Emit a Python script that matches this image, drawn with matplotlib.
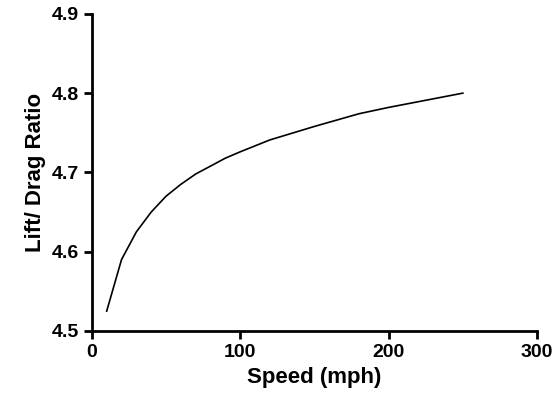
import matplotlib
matplotlib.use("Agg")
from matplotlib import pyplot as plt

speed = [10, 20, 30, 40, 50, 60, 70, 80, 90, 100, 120, 150, 180, 200, 250]
ratio = [4.525, 4.59, 4.625, 4.65, 4.67, 4.685, 4.698, 4.708, 4.718, 4.726,
         4.741, 4.758, 4.774, 4.782, 4.80]

plt.rcParams['font.family'] = ['Liberation Sans', 'DejaVu Sans']
plt.rcParams['font.weight'] = 'bold'

fig = plt.figure(figsize=(5.6, 4.2), dpi=100)
ax = fig.add_axes([0.164, 0.212, 0.795, 0.755])
ax.plot(speed, ratio, color='black', linewidth=1.2)

ax.set_xlim(0, 300)
ax.set_ylim(4.5, 4.9)
ax.set_xticks([0, 100, 200, 300])
ax.set_yticks([4.5, 4.6, 4.7, 4.8, 4.9])
ax.set_xlabel('Speed (mph)', fontsize=16, fontweight='bold')
ax.set_ylabel('Lift/ Drag Ratio', fontsize=16, fontweight='bold')
for s in ['top', 'right']:
    ax.spines[s].set_visible(False)
for s in ['left', 'bottom']:
    ax.spines[s].set_linewidth(2)
ax.tick_params(width=2, length=6, labelsize=14)
for lab in ax.get_xticklabels() + ax.get_yticklabels():
    lab.set_fontweight('bold')

fig.savefig('out.png', dpi=100)
